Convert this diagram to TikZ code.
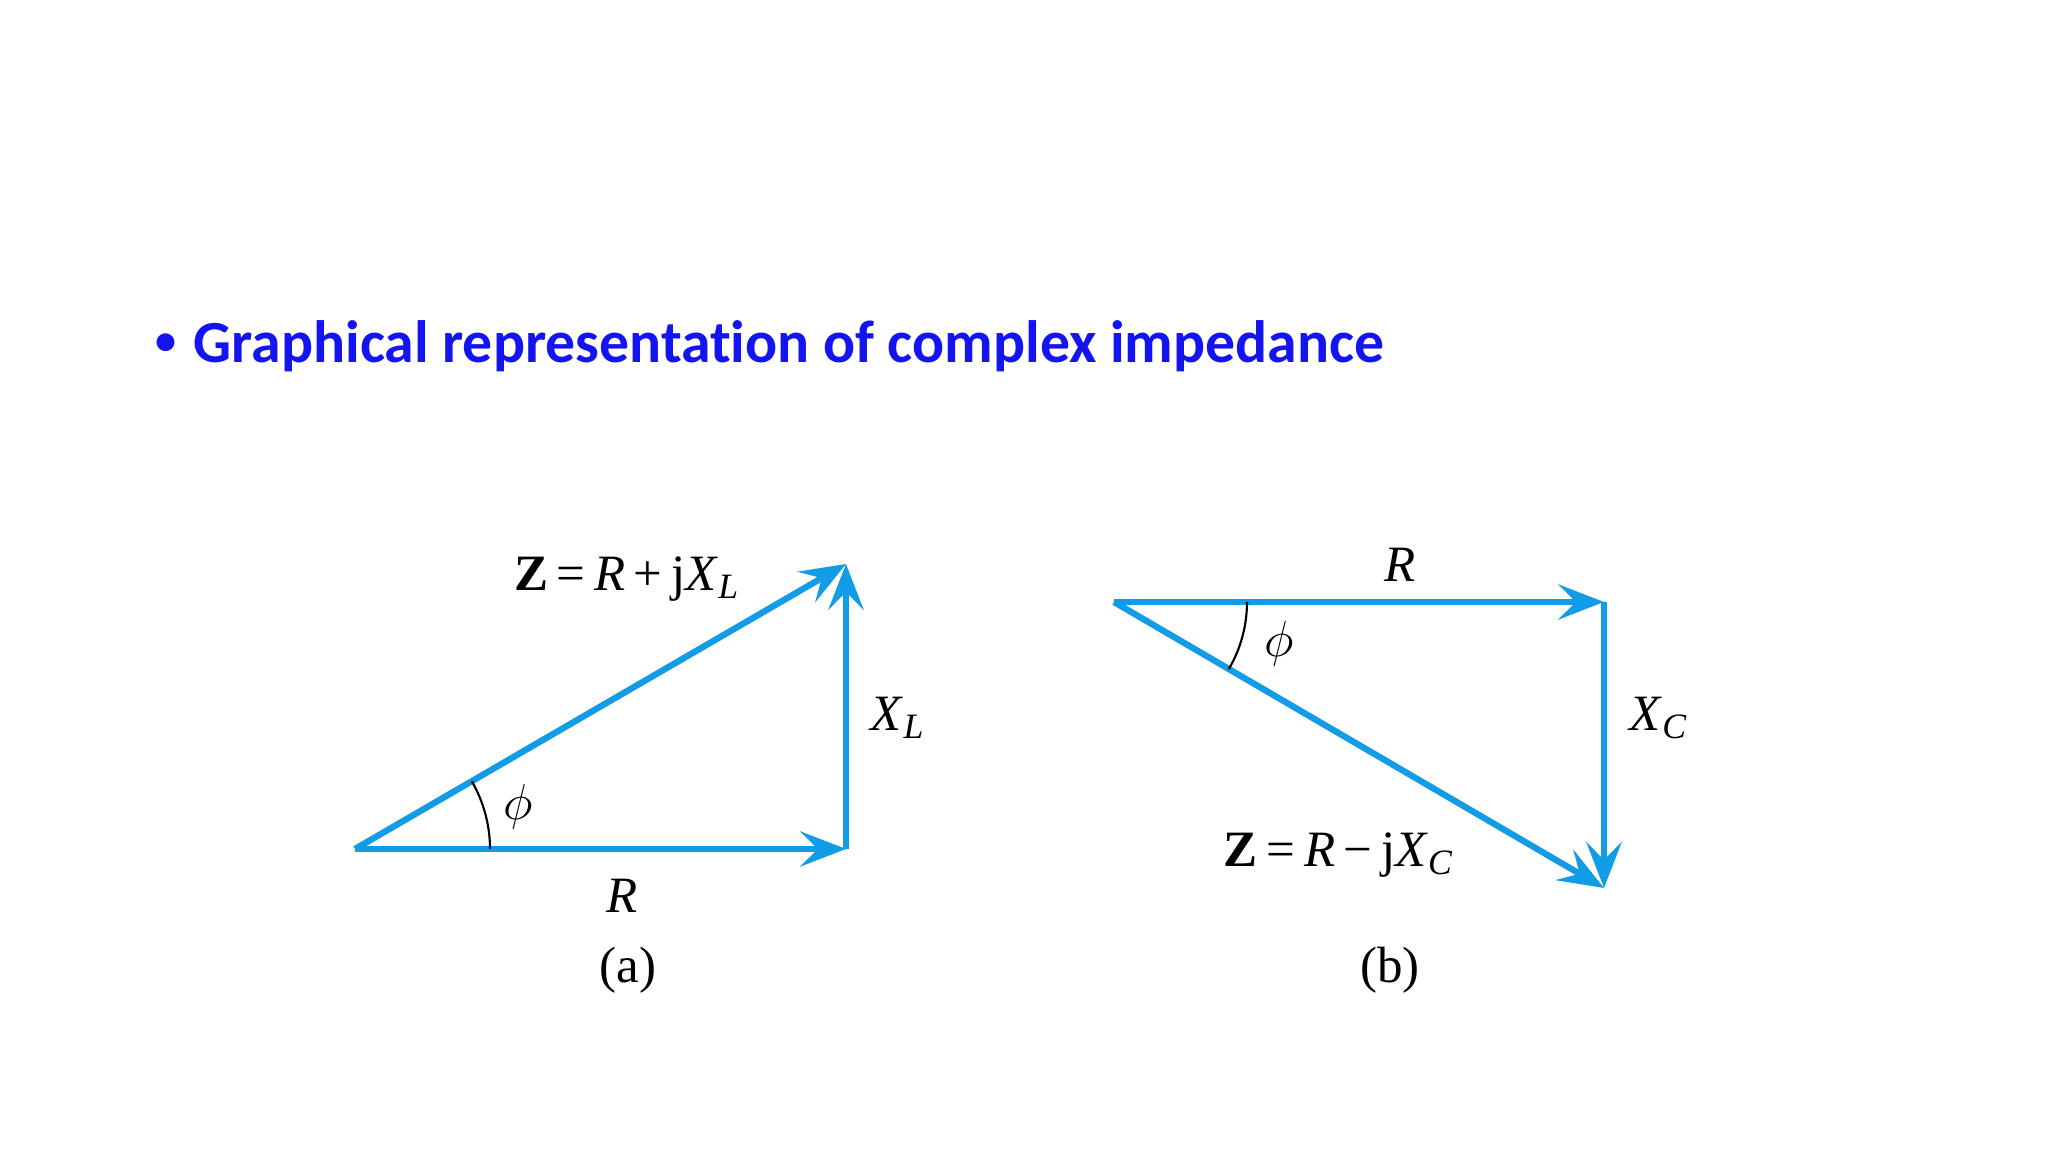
\documentclass[tikz,border=0pt]{standalone}
\usepackage{fontspec}
\setmainfont{Liberation Serif}
\newfontfamily\titlefont[Ligatures=NoCommon]{Carlito}
\usetikzlibrary{arrows.meta,calc}
\definecolor{vecblue}{RGB}{18,156,230}
\definecolor{titleblue}{RGB}{20,20,240}
\newcommand{\sym}[1]{\textit{#1}}
\newcommand{\gap}{\hspace{0.17em}}
\begin{document}
\begin{tikzpicture}[vec/.style={draw=vecblue,line width=1.8pt,-{Stealth[length=13pt,width=10pt,inset=5pt]}},
  lbl/.style={font=\fontsize{14.5}{17}\selectfont,inner sep=1pt},
  angarc/.style={draw=black,line width=0.6pt},
  title/.style={font=\titlefont\bfseries\fontsize{17}{21}\selectfont,text=titleblue,inner sep=0pt}]

    \useasboundingbox (0,0) rectangle (20.48,11.52);
    \node[title,anchor=base west] (title) at (1.93,7.89) {Graphical representation of complex impedance};
    \node[title,font=\titlefont\bfseries\fontsize{12}{14}\selectfont] (bullet) at (1.66,8.08) {\textbullet};

    % (a) inductive
    \coordinate (a0) at (3.55,3.03);
    \coordinate (a1) at (8.46,3.03);
    \coordinate (a2) at (8.46,5.88);
    \draw[vec] (a0) -- (a1);
    \draw[vec] (a1) -- (a2);
    \draw[vec] (a0) -- (a2);
    \draw[angarc] ($(a0)+(1.35,0)$) arc (0:30.1:1.35);
    \node[lbl] (za) at (6.27,5.73) {\textbf{Z}\gap=\gap\sym{R}\gap+\gap j\sym{X}\textsubscript{\sym{L}}};
    \node[lbl] (xl) at (8.98,4.34) {\sym{X}\textsubscript{\sym{L}}};
    \node[lbl] (ra) at (6.22,2.56) {\sym{R}};
    \node[lbl] (phia) at (5.18,3.45) {$\phi$};
    \node[lbl] (capa) at (6.28,1.82) {(a)};

    % (b) capacitive
    \coordinate (b0) at (11.14,5.50);
    \coordinate (b1) at (16.04,5.50);
    \coordinate (b2) at (16.04,2.64);
    \draw[vec] (b0) -- (b1);
    \draw[vec] (b1) -- (b2);
    \draw[vec] (b0) -- (b2);
    \draw[angarc] ($(b0)+(1.33,0)$) arc (0:-30.3:1.33);
    \node[lbl] (rb) at (14.00,5.87) {\sym{R}};
    \node[lbl] (phib) at (12.79,5.08) {$\phi$};
    \node[lbl] (xc) at (16.59,4.34) {\sym{X}\textsubscript{\sym{C}}};
    \node[lbl] (zb) at (13.39,2.97) {\textbf{Z}\gap=\gap\sym{R}\gap−\gap j\sym{X}\textsubscript{\sym{C}}};
    \node[lbl] (capb) at (13.90,1.82) {(b)};

\end{tikzpicture}
\end{document}
